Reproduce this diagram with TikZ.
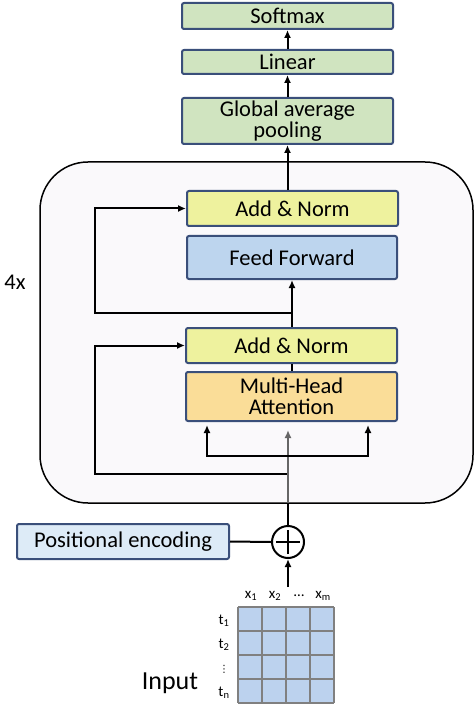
\documentclass[tikz,border=0pt]{standalone}
\usepackage{fontspec}
\setmainfont{Carlito}
\newfontfamily\dotsfont{DejaVu Sans}
\usetikzlibrary{arrows.meta}

\definecolor{boxline}{HTML}{3A4F7A}
\definecolor{greenfill}{HTML}{D0E4C0}
\definecolor{yellowfill}{HTML}{EEF29E}
\definecolor{bluefill}{HTML}{BDD5EE}
\definecolor{orangefill}{HTML}{FADD98}
\definecolor{pefill}{HTML}{DDEBF7}
\definecolor{cellfill}{HTML}{BCD2EE}
\definecolor{stackfill}{HTML}{FAF9FB}

\begin{document}
\begin{tikzpicture}[x=1pt, y=-1pt, >={Latex[length=8pt,width=7pt]},
                    line width=2pt,
                    layer box/.style={rectangle, draw=boxline, rounded corners=2pt,
                      line width=2pt, minimum width=211pt, align=center,
                      font=\fontsize{22.5}{22}\selectfont, inner sep=0pt},
                    arr/.style={->, line width=2pt}]

  \useasboundingbox (0,0) rectangle (474,708);

  % encoder stack
  \draw[fill=stackfill, line width=1.5pt, rounded corners=48pt]
    (40,162) rectangle (473,503);
  \node[font=\fontsize{22.5}{22}\selectfont] (rep) at (15,282) {4x};

  % output layers
  \node[layer box, fill=greenfill, minimum height=26pt] (softmax) at (287.5,16) {Softmax};
  \node[layer box, fill=greenfill, minimum height=24pt] (linear) at (287.5,62) {Linear};
  \node[layer box, fill=greenfill, minimum height=46pt] (pool) at (287.5,121)
    {Global average\\[-1pt]pooling};

  % encoder layers
  \node[layer box, fill=yellowfill, minimum height=35pt] (addA) at (292.5,208.5) {Add \& Norm};
  \node[layer box, fill=bluefill, minimum height=43pt, minimum width=210pt] (ff) at (292,257.5) {Feed Forward};
  \node[layer box, fill=yellowfill, minimum height=35pt] (addB) at (291.5,345.5) {Add \& Norm};
  \node[layer box, fill=orangefill, minimum height=49pt] (mha) at (291.5,396.5)
    {Multi-Head\\[-1pt]Attention};

  % input side
  \node[circle, draw, fill=white, minimum size=32pt, inner sep=0pt] (plus) at (288,542) {};
  \draw[line width=2.2pt] ([xshift=-12pt]plus.center) -- ([xshift=12pt]plus.center)
                          ([yshift=-12pt]plus.center) -- ([yshift=12pt]plus.center);
  \node[layer box, fill=pefill, minimum height=35pt, minimum width=212pt] (pe) at (123,541.5)
    {Positional encoding};

  \coordinate (skipA) at (95,313);
  \coordinate (skipB) at (95,474);
  \coordinate (brL) at (207,456);
  \coordinate (brR) at (368,456);
  \coordinate (stackBot) at (288,503);
  \coordinate (inTop) at (288,587);

  % connections
  \draw[arr] (linear.north -| softmax) -- (softmax.south);
  \draw[arr] (pool.north) -- (linear.south);
  \draw[arr] (pool.south |- addA.north) -- (pool.south);
  \draw[arr] (ff.south |- addB.north) -- (ff.south);
  \draw (addB.south) -- (mha.north);
  \draw[arr] (ff.south |- skipA) -- (skipA) |- (addA.west);
  \draw[arr] (plus |- skipB) -- (skipB) |- (addB.west);
  \draw (plus.north) -- (stackBot);
  \draw[arr, gray!80!black, shorten >=8pt] (stackBot) -- (mha.south -| plus);
  \draw[arr, shorten >=3pt] (brL -| plus) -- (brL) -- (brL |- mha.south);
  \draw[arr, shorten >=3pt] (brR -| plus) -- (brR) -- (brR |- mha.south);
  \draw (pe.east) -- (plus.west);
  \draw[arr] (inTop) -- (plus.south);

  % input matrix
  \fill[cellfill] (238,607) rectangle (334,703);
  \foreach \k in {0,...,4} {
    \draw[gray, line width=2pt] (238+24*\k,607) -- (238+24*\k,703);
    \draw[gray, line width=2pt] (238,607+24*\k) -- (334,607+24*\k);
  }
  \foreach \lbl [count=\i from 0] in {x\textsubscript{1}, x\textsubscript{2}, \ldots, x\textsubscript{m}}
    \node[font=\fontsize{15}{15}\selectfont, inner sep=0pt] (col\i) at (251+24*\i,596) {\lbl};
  \foreach \lbl [count=\i from 0] in {t\textsubscript{1}, t\textsubscript{2}, {\dotsfont\fontsize{10}{10}\selectfont ⋮}, t\textsubscript{n}}
    \node[font=\fontsize{15}{15}\selectfont, inner sep=0pt] (row\i) at (224,621+24*\i) {\lbl};
  \node[font=\fontsize{26}{26}\selectfont] (input) at (170,683) {Input};

\end{tikzpicture}
\end{document}
